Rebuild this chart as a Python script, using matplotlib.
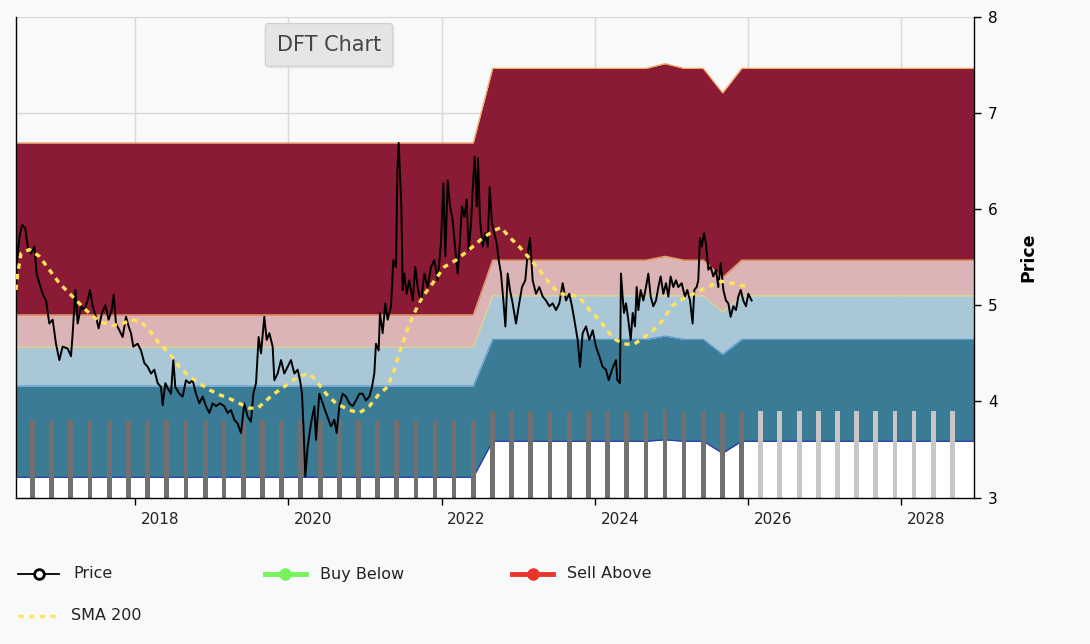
import numpy as np
import pandas as pd
import matplotlib
matplotlib.use("Agg")
import matplotlib.pyplot as plt
from matplotlib.lines import Line2D
from matplotlib.transforms import blended_transform_factory, ScaledTranslation

# ---------------- data ----------------
TITLE = "DFT Chart"
Y_LABEL = "Price"
X_TICK_YEARS = [2018, 2020, 2022, 2024, 2026, 2028]
Y_TICKS = [3, 4, 5, 6, 7, 8]

# valuation band levels (bottom -> top) at key dates
BAND_DATES = ["2016-06-01", "2022-06-01", "2022-09-01", "2024-09-01", "2024-12-01",
              "2025-03-01", "2025-06-01", "2025-09-01", "2025-12-01", "2029-01-01"]
BAND_L1 = [3.21, 3.21, 3.585, 3.585, 3.60, 3.585, 3.585, 3.46, 3.585, 3.585]
BAND_L2 = [4.16, 4.16, 4.645, 4.645, 4.68, 4.645, 4.645, 4.49, 4.645, 4.645]
BAND_L3 = [4.565, 4.565, 5.10, 5.10, 5.10, 5.10, 5.10, 4.93, 5.10, 5.10]
BAND_L4 = [4.90, 4.90, 5.47, 5.47, 5.51, 5.47, 5.47, 5.29, 5.47, 5.47]
BAND_L5 = [6.69, 6.69, 7.465, 7.465, 7.515, 7.465, 7.465, 7.21, 7.465, 7.465]

# quarterly bars
BAR_DATES = ["2016-09-01", "2016-12-01", "2017-03-01", "2017-06-01", "2017-09-01", "2017-12-01",
             "2018-03-01", "2018-06-01", "2018-09-01", "2018-12-01", "2019-03-01", "2019-06-01",
             "2019-09-01", "2019-12-01", "2020-03-01", "2020-06-01", "2020-09-01", "2020-12-01",
             "2021-03-01", "2021-06-01", "2021-09-01", "2021-12-01", "2022-03-01", "2022-06-01",
             "2022-09-01", "2022-12-01", "2023-03-01", "2023-06-01", "2023-09-01", "2023-12-01",
             "2024-03-01", "2024-06-01", "2024-09-01", "2024-12-01", "2025-03-01", "2025-06-01",
             "2025-09-01", "2025-12-01",
             "2026-03-01", "2026-06-01", "2026-09-01", "2026-12-01", "2027-03-01", "2027-06-01",
             "2027-09-01", "2027-12-01", "2028-03-01", "2028-06-01", "2028-09-01"]
BAR_VALUES = [3.81] * 24 + [3.905, 3.905, 3.905, 3.905, 3.905, 3.905, 3.905, 3.905, 3.905, 3.92,
                            3.905, 3.905, 3.875, 3.905] + [3.905] * 11
BAR_FUTURE = [False] * 38 + [True] * 11

# price (decimal year, value)
PRICE_T = [2016.448, 2016.470, 2016.491, 2016.526, 2016.569, 2016.600, 2016.643, 2016.687, 2016.717,
           2016.752, 2016.795, 2016.839, 2016.882, 2016.926, 2016.969, 2017.013, 2017.056, 2017.122,
           2017.165, 2017.187, 2017.222, 2017.252, 2017.296, 2017.339, 2017.382, 2017.413, 2017.448,
           2017.491, 2017.526, 2017.569, 2017.613, 2017.656, 2017.696, 2017.722, 2017.752, 2017.796,
           2017.839, 2017.883, 2017.917, 2017.948, 2017.978, 2018.035, 2018.078, 2018.122, 2018.165,
           2018.209, 2018.252, 2018.296, 2018.339, 2018.361, 2018.396, 2018.439, 2018.470, 2018.500,
           2018.526, 2018.578, 2018.622, 2018.665, 2018.709, 2018.752, 2018.796, 2018.839, 2018.883,
           2018.926, 2018.970, 2019.013, 2019.057, 2019.109, 2019.165, 2019.209, 2019.252, 2019.296,
           2019.339, 2019.383, 2019.426, 2019.470, 2019.513, 2019.544, 2019.579, 2019.613, 2019.644,
           2019.687, 2019.718, 2019.753, 2019.796, 2019.818, 2019.861, 2019.905, 2019.948, 2019.992,
           2020.035, 2020.079, 2020.122, 2020.153, 2020.179, 2020.200, 2020.222, 2020.253, 2020.296,
           2020.340, 2020.361, 2020.405, 2020.448, 2020.492, 2020.557, 2020.601, 2020.631, 2020.666,
           2020.709, 2020.753, 2020.796, 2020.840, 2020.883, 2020.927, 2020.970, 2021.014, 2021.057,
           2021.092, 2021.122, 2021.144, 2021.179, 2021.196, 2021.231, 2021.266, 2021.296, 2021.340,
           2021.370, 2021.405, 2021.423, 2021.440, 2021.457, 2021.475, 2021.492, 2021.514, 2021.544,
           2021.579, 2021.623, 2021.657, 2021.688, 2021.731, 2021.775, 2021.818, 2021.862, 2021.905,
           2021.949, 2021.992, 2022.023, 2022.049, 2022.079, 2022.110, 2022.144, 2022.179, 2022.210,
           2022.240, 2022.266, 2022.297, 2022.327, 2022.353, 2022.384, 2022.405, 2022.431, 2022.458,
           2022.475, 2022.501, 2022.536, 2022.571, 2022.601, 2022.627, 2022.658, 2022.688, 2022.718,
           2022.745, 2022.775, 2022.806, 2022.832, 2022.862, 2022.892, 2022.927, 2022.971, 2023.006,
           2023.049, 2023.092, 2023.123, 2023.153, 2023.188, 2023.232, 2023.275, 2023.319, 2023.362,
           2023.406, 2023.449, 2023.493, 2023.536, 2023.580, 2023.623, 2023.666, 2023.701, 2023.732,
           2023.775, 2023.806, 2023.840, 2023.884, 2023.927, 2023.971, 2024.014, 2024.058, 2024.101,
           2024.145, 2024.180, 2024.223, 2024.275, 2024.293, 2024.327, 2024.340, 2024.362, 2024.380,
           2024.406, 2024.436, 2024.467, 2024.493, 2024.523, 2024.545, 2024.567, 2024.597, 2024.632,
           2024.667, 2024.697, 2024.728, 2024.762, 2024.797, 2024.828, 2024.858, 2024.893, 2024.928,
           2024.958, 2024.988, 2025.023, 2025.058, 2025.088, 2025.132, 2025.175, 2025.206, 2025.241,
           2025.275, 2025.297, 2025.328, 2025.349, 2025.371, 2025.393, 2025.423, 2025.449, 2025.480,
           2025.510, 2025.545, 2025.580, 2025.610, 2025.641, 2025.676, 2025.710, 2025.741, 2025.771,
           2025.806, 2025.841, 2025.871, 2025.902, 2025.936, 2025.971, 2026.002, 2026.045]
PRICE_V = [5.35, 5.54, 5.70, 5.84, 5.80, 5.61, 5.54, 5.61, 5.33,
           5.23, 5.12, 5.05, 4.81, 4.85, 4.60, 4.43, 4.57, 4.55,
           4.47, 4.71, 5.16, 4.81, 4.99, 4.95, 5.05, 5.16, 4.99,
           4.88, 4.76, 4.92, 5.00, 4.85, 4.95, 5.11, 4.81, 4.74,
           4.67, 4.88, 4.78, 4.71, 4.57, 4.60, 4.53, 4.40, 4.36,
           4.29, 4.33, 4.19, 4.15, 3.96, 4.19, 4.12, 4.08, 4.43,
           4.15, 4.08, 4.05, 4.22, 4.19, 4.22, 4.08, 3.98, 4.05,
           3.95, 3.88, 3.98, 3.95, 3.98, 3.95, 3.88, 3.91, 3.81,
           3.77, 3.67, 3.98, 3.84, 3.79, 4.08, 4.19, 4.67, 4.50,
           4.88, 4.64, 4.71, 4.57, 4.22, 4.29, 4.43, 4.29, 4.36,
           4.43, 4.29, 4.33, 4.22, 4.08, 3.70, 3.22, 3.53, 3.77,
           3.95, 3.60, 4.08, 3.98, 3.88, 3.74, 3.81, 3.67, 3.95,
           4.08, 4.05, 3.98, 3.95, 4.01, 4.08, 4.08, 4.01, 4.05,
           4.15, 4.29, 4.60, 4.53, 4.92, 4.71, 5.02, 4.85, 4.99,
           5.47, 5.40, 6.41, 6.69, 6.37, 6.03, 5.16, 5.33, 5.12,
           5.26, 5.05, 5.40, 5.19, 5.02, 5.33, 5.19, 5.40, 5.47,
           5.26, 5.65, 6.27, 5.51, 6.30, 6.03, 5.89, 5.58, 5.33,
           5.68, 6.03, 5.92, 6.10, 5.58, 5.85, 6.20, 6.55, 6.03,
           6.53, 5.89, 5.61, 5.75, 5.61, 6.23, 5.85, 5.75, 5.65,
           5.47, 5.33, 5.05, 4.78, 5.33, 5.16, 5.02, 4.81, 4.99,
           5.19, 5.26, 5.54, 5.70, 5.26, 5.12, 5.19, 5.09, 5.05,
           4.99, 5.02, 4.95, 5.02, 5.23, 5.05, 5.12, 4.99, 4.85,
           4.64, 4.36, 4.71, 4.78, 4.64, 4.74, 4.57, 4.47, 4.36,
           4.33, 4.22, 4.33, 4.43, 4.22, 4.19, 5.33, 5.09, 4.92,
           5.02, 4.85, 4.64, 4.92, 4.78, 5.19, 4.95, 5.16, 5.05,
           5.19, 5.33, 5.09, 4.99, 5.05, 5.19, 5.30, 5.12, 5.23,
           5.09, 5.30, 5.19, 5.26, 5.19, 5.23, 5.09, 5.16, 5.05,
           4.81, 5.16, 5.19, 5.26, 5.70, 5.61, 5.75, 5.64, 5.37,
           5.40, 5.30, 5.37, 5.19, 5.44, 5.16, 5.05, 5.02, 4.88,
           4.99, 4.95, 5.09, 5.16, 5.05, 4.99, 5.12, 5.05]

# 200-day simple moving average (decimal year, value)
SMA_T = [2016.448, 2016.470, 2016.513, 2016.621, 2016.752, 2016.882, 2017.013, 2017.187, 2017.361,
         2017.535, 2017.709, 2017.839, 2017.948, 2018.078, 2018.187, 2018.318, 2018.448, 2018.578,
         2018.709, 2018.839, 2018.970, 2019.100, 2019.231, 2019.361, 2019.492, 2019.600, 2019.687,
         2019.796, 2019.927, 2020.057, 2020.187, 2020.274, 2020.361, 2020.492, 2020.622, 2020.796,
         2020.927, 2021.057, 2021.188, 2021.296, 2021.383, 2021.449, 2021.536, 2021.644, 2021.753,
         2021.884, 2022.036, 2022.188, 2022.362, 2022.536, 2022.688, 2022.775, 2022.884, 2023.014,
         2023.145, 2023.275, 2023.406, 2023.536, 2023.666, 2023.797, 2023.927, 2024.058, 2024.188,
         2024.275, 2024.371, 2024.501, 2024.632, 2024.762, 2024.893, 2025.001, 2025.132, 2025.262,
         2025.393, 2025.523, 2025.654, 2025.784, 2025.893, 2026.023]
SMA_V = [5.16, 5.33, 5.54, 5.58, 5.51, 5.37, 5.23, 5.09, 4.95,
         4.83, 4.79, 4.81, 4.85, 4.83, 4.74, 4.60, 4.50, 4.36,
         4.26, 4.19, 4.12, 4.07, 4.03, 3.98, 3.93, 3.93, 3.99,
         4.07, 4.14, 4.22, 4.27, 4.29, 4.22, 4.08, 3.98, 3.91,
         3.88, 3.95, 4.08, 4.15, 4.33, 4.50, 4.71, 4.92, 5.09,
         5.23, 5.40, 5.47, 5.58, 5.70, 5.78, 5.81, 5.71, 5.61,
         5.49, 5.37, 5.23, 5.12, 5.11, 5.09, 4.95, 4.85, 4.71,
         4.64, 4.60, 4.59, 4.66, 4.74, 4.85, 4.99, 5.06, 5.11,
         5.16, 5.21, 5.25, 5.23, 5.21, 5.19]

LEGEND_LABELS = ["Price", "Buy Below", "Sell Above", "SMA 200"]


def dec_year(s):
    ts = pd.Timestamp(s)
    days = 366 if ts.is_leap_year else 365
    return ts.year + (ts.dayofyear - 1) / days


# ---------------- styling ----------------
BG = "#f8f9fb"
C_DARKRED = "#8b1a34"
C_PINK = "#ddb4b6"
C_LBLUE = "#a9c7d7"
C_TEAL = "#3a7c96"
C_BAR = "#707070"
C_BAR_F = "#c6c6c6"

W, H = 1090, 644
fig = plt.figure(figsize=(W / 100, H / 100), dpi=100, facecolor=BG)
L, R, T, B = 16, 974, 17, 497.5
ax = fig.add_axes([L / W, 1 - B / H, (R - L) / W, (B - T) / H])
ax.set_facecolor(BG)

bx = np.array([dec_year(d) for d in BAND_DATES])
l1, l2, l3, l4, l5 = map(np.array, (BAND_L1, BAND_L2, BAND_L3, BAND_L4, BAND_L5))
ax.fill_between(bx, 0, l1, color="white", lw=0, zorder=1)
ax.fill_between(bx, l1, l2, color=C_TEAL, lw=0, zorder=1)
ax.fill_between(bx, l2, l3, color=C_LBLUE, lw=0, zorder=1)
ax.fill_between(bx, l3, l4, color=C_PINK, lw=0, zorder=1)
ax.fill_between(bx, l4, l5, color=C_DARKRED, lw=0, zorder=1)
ax.plot(bx, l1, color="#2a3bb0", lw=0.9, zorder=1.5)
ax.plot(bx, l2, color="#5a9bd0", lw=0.9, zorder=1.5)
ax.plot(bx, l3, color="#d4d88c", lw=0.9, zorder=1.5)
ax.plot(bx, l4, color="#e9a060", lw=0.9, zorder=1.5)
ax.plot(bx, l5, color="#f0a860", lw=0.9, zorder=1.5)

barx = np.array([dec_year(d) for d in BAR_DATES])
barc = [C_BAR_F if f else C_BAR for f in BAR_FUTURE]
ax.bar(barx, BAR_VALUES, width=23 / 365, color=barc, lw=0, zorder=2)

ax.plot(PRICE_T, PRICE_V, color="black", lw=1.4, zorder=3)
ax.plot(SMA_T, SMA_V, color="#ffe35a", lw=2.4, ls=(0, (1.6, 1.6)), zorder=4)

ax.set_xlim(2016.4475, 2028.946)
ax.set_ylim(3, 8)
ax.set_xticks(X_TICK_YEARS)
ax.set_xticklabels([])
ax.set_yticks(Y_TICKS)
ax.yaxis.tick_right()
ax.tick_params(axis="y", direction="out", length=5, width=1, pad=5, labelsize=11, colors="black")
ax.tick_params(axis="x", direction="out", length=5, width=1, colors="black")
ax.grid(True, color="#d8d8d8", lw=1)
ax.set_axisbelow(True)
for side in ("left", "bottom", "right"):
    ax.spines[side].set_color("black")
    ax.spines[side].set_linewidth(1)
ax.spines["top"].set_visible(False)

# x tick labels, placed to the right of their ticks
trans = blended_transform_factory(ax.transData, ax.transAxes) + ScaledTranslation(25 / 100, -15 / 100, fig.dpi_scale_trans)
for yr in X_TICK_YEARS:
    ax.text(yr, 0, str(yr), transform=trans, ha="center", va="top", fontsize=11, color="#222222")

fig.text(1028 / W, 1 - 257 / H, Y_LABEL, rotation=90, ha="center", va="center",
         fontsize=12.5, fontweight="bold", color="black")

# title box with a soft shadow
fig.text(331 / W, 1 - 47 / H, TITLE, ha="center", va="center", fontsize=15, color=(0, 0, 0, 0),
         bbox=dict(boxstyle="round,pad=0.55,rounding_size=0.15", fc="#dcdcdc", ec="none", alpha=0.5))
fig.text(329 / W, 1 - 45 / H, TITLE, ha="center", va="center", fontsize=15, color="#444444",
         bbox=dict(boxstyle="round,pad=0.55,rounding_size=0.15", fc="#e5e5e5", ec="#d2d2d2", lw=1))


# legend drawn in figure pixel coordinates
def fx(x):
    return x / W


def fy(y):
    return 1 - y / H


def legend_item(x0, x1, y, label, color, lw, marker=None, mfc=None, ls="-"):
    fig.add_artist(Line2D([fx(x0), fx(x1)], [fy(y), fy(y)], color=color, lw=lw, ls=ls,
                          transform=fig.transFigure))
    if marker:
        fig.add_artist(Line2D([fx((x0 + x1) / 2)], [fy(y)], marker=marker, ms=7, mfc=mfc,
                              mec=color, mew=2, transform=fig.transFigure))
    fig.text(fx(x1 + 14), fy(y), label, ha="left", va="center", fontsize=11.5, color="#222222")


legend_item(18, 59, 574, LEGEND_LABELS[0], "black", 1.3, marker="o", mfc="white")
legend_item(265, 306, 574, LEGEND_LABELS[1], "#78f25a", 3.5, marker="o", mfc="#78f25a")
legend_item(512, 553, 574, LEGEND_LABELS[2], "#e8352a", 3.5, marker="o", mfc="#e8352a")
legend_item(18, 57, 616, LEGEND_LABELS[3], "#ffe35a", 2.4, ls=(0, (1.6, 1.6)))

fig.savefig("out.png", dpi=100, facecolor=BG)
